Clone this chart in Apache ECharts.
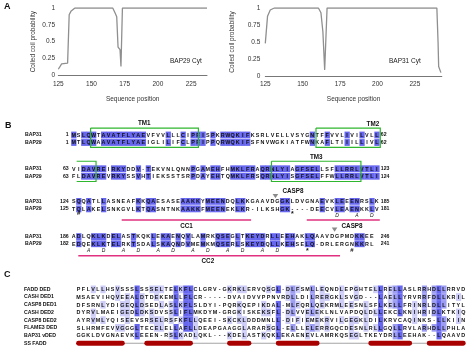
<!DOCTYPE html>
<html>
<head>
<meta charset="utf-8">
<script src="https://cdn.jsdelivr.net/npm/echarts@6/dist/echarts.min.js"></script>
<style>
  html, body { margin: 0; padding: 0; background: #fff; }
  #chart { width: 474px; height: 350px; }
</style>
</head>
<body>
<div id="chart"></div>
<script>
const FONT = '"Liberation Sans", Arial, sans-serif';

// panel A - coiled coil probability vs sequence position
const bap29Pos  = [125, 126, 127.5, 132, 133.2, 134.5, 137.5, 166, 167.7, 169, 170, 171.5, 172.2, 173.3, 237];
const bap29Prob = [0.09, 0.12, 0.17, 0.18, 0.9, 0.95, 1, 1, 0.93, 0.87, 0.42, 0.38, 0.13, 1, 1];
const bap31Pos  = [125, 126.5, 128.3, 131, 160.5, 162.2, 163.5, 164.7, 165.3, 166.3, 239.7, 240.5, 240.9, 242.4];
const bap31Prob = [0.48, 0.88, 0.97, 1, 1, 0.93, 0.65, 0.09, 0.1, 1, 1, 0.5, 0.14, 0.05];

// panel B - BAP31 / BAP29 alignment
const bap31Seq = [
  'MSLQWTAVATFLYAEVFVVLLLCIPFISPKRWQKIFKSRLVELLVSYGNTFFVVLIVILVLL',
  'VIDAVREIRKYDDV-TEKVNLQNNPGAMEHFHMKLFRAQRNLYIAGFSELLSFLLRRLVTLI',
  'SQQATLLASNEAFKKQAESASEAAKKYMEENDQLKKGAAVDGGKLDVGNAEVKLEEENRSLK',
  'ADLQKLKDELASTKQKLEKAENQVLAMRKQSEGLTKEYDRLLEEHAKLQAAVDGPMDKKEE'
];
const bap29Seq = [
  'MTLQWAAVATFLYAEIGLILIFCLPFIPPQRWQKIFSFNVWGKIATFWNKAFLTIIILLIVL',
  'FLDAVREVRKYSSVHTIEKSSTSRPDAYEHTQMKLFRSQRNLYISGFSELFFWLLRRLVTLI',
  'TQLAKELSNKGVLKTQASNTNKAAKKFMEENEKLKR-ILKSHGK----DEECVLEAENKKLV',
  'EDQEKLKTELRKTSDALSKAQNDVMEMKMQSERLSKEYDQLLKEHSELQ-DRLERGNKKRL'
];
const bap31From = [1, 63, 124, 186];
const bap31To   = [62, 123, 185, 246];
const bap29From = [1, 63, 125, 182];
const bap29To   = [62, 124, 181, 241];
const heptadA = [3, 10, 17, 24, 31, 38];
const heptadD = [6, 13, 20, 27, 34, 41];

// panel C - death effector domains
const dedNames = ['FADD DED', 'CASH DED1', 'CASP8 DED1', 'CASH DED2', 'CASP8 DED2', 'FLAME3 DED', 'BAP31 vDED'];
const dedSeqs = [
  'PFLVLLHSVSSSLSSSELTELKFLCLGRV-GKRKLERVQSGL-DLFSMLLEQNDLEPGHTELLRELLASLRRHDLLRRVD',
  'MSAEVIHQVEEALDTDEKEMLLFLCR-----DVAIDVVPPNVRDLLDILRERGKLSVGD---LAELLYRVRRFDLLKRIL',
  'DFSRNLYDIGEQLDSEDLASLKFLSLDYI-PQRKQEPIKDAL-MLFQRLQEKRMLEESNLSFLKELLFRINRLDLLITYL',
  'DYRVLMAEIGEDLDKSDVSSLIFLMKDYM-GRGKISKEKSFL-DLVVELEKLNLVAPDQLDLLEKCLKNIHRIDLKTKIQ',
  'AYRVMLYQISEEVSRSELRSFKFLLQEEI-SKCKLDDDMNLL-DIFIEMEKRVILGEGKLDILKRVCAQINKS-LLKIIN',
  'SLHRMFEVVGGGLTECELELLAFLLDEAPGAAGGLARARSGL-ELLLELERRGQCDESNLRLLGQLLRVLARHDLLPHLA',
  'GGKLDVGNAEVKLEEEN-RSLKADLQKL---KDELASTKQKLEKAENEVLAMRKQSEGLTKEYDRLLEEHAK--LQAAVD'
];
const ssFaddHelix = [[0, 9], [14, 23], [31, 35], [41, 49], [60, 68], [72, 79]];

const BLUE = '#6666ee', MID = '#9c9cf3', LIGHT = '#cdcdf7';
const GREEN = '#2fb62f', PINK = '#e0307f';

// identity shading for panel B
const rowY31 = [2, 6.5, 10.85, 15.55];
const rowY29 = [3, 7.5, 11.85, 16.5];
const bCells = [];
bap31Seq.forEach((s31, r) => {
  const s29 = bap29Seq[r];
  [[s31, rowY31[r]], [s29, rowY29[r]]].forEach(([s, y]) => {
    for (let i = 0; i < s.length; i++) {
      const same = s31[i] === s29[i] && s31[i] !== '-';
      bCells.push({ col: i, y: y, ch: s[i], fill: same ? BLUE : null });
    }
  });
});

// percentage identity shading for panel C
const cCells = [];
for (let i = 0; i < dedSeqs[0].length; i++) {
  const counts = {};
  dedSeqs.forEach(s => { const ch = s[i]; if (ch && ch !== '-') counts[ch] = (counts[ch] || 0) + 1; });
  let best = null, n = 0;
  for (const k in counts) if (counts[k] > n) { n = counts[k]; best = k; }
  const pct = n / dedSeqs.length;
  const fill = pct > 0.8 ? BLUE : pct > 0.6 ? MID : pct > 0.4 ? LIGHT : null;
  dedSeqs.forEach((s, r) => cCells.push({ col: i, y: r, ch: s[i], fill: s[i] === best ? fill : null }));
}

function textEl(s, p, font, align, color) {
  return {
    type: 'text',
    style: {
      text: s, x: p[0], y: p[1], font: font, fill: color || '#111',
      align: align || 'center', verticalAlign: 'middle',
      textAlign: align || 'center', textVerticalAlign: 'middle'
    }
  };
}

function cellRenderer(cells, cellH) {
  return function (params, api) {
    const c = cells[params.dataIndex];
    const p = api.coord([c.col, c.y]);
    const w = api.size([1, 0])[0];
    const kids = [];
    if (c.fill) {
      kids.push({ type: 'rect', shape: { x: p[0] - w / 2, y: p[1] - cellH / 2, width: w + 0.3, height: cellH }, style: { fill: c.fill } });
    }
    kids.push(textEl(c.ch, [p[0], p[1] + 0.3], 'bold 5.4px ' + FONT));
    return { type: 'group', children: kids };
  };
}

function bAnnot(params, api) {
  const P = (x, y) => api.coord([x, y]);
  const kids = [];
  const lab = 'bold 6.3px ' + FONT;
  const small = 'bold 5.2px ' + FONT;
  const box = (x0, x1, y0, y1, openLeft) => {
    const a = P(x0, y0), b = P(x1, y1);
    const pts = [[a[0], a[1]], [b[0], a[1]], [b[0], b[1]], [a[0], b[1]]];
    if (!openLeft) pts.push([a[0], a[1]]);
    kids.push({ type: 'polyline', shape: { points: pts }, style: { stroke: GREEN, lineWidth: 1.2, fill: null } });
  };
  const hline = (x0, x1, y) => {
    const a = P(x0, y), b = P(x1, y);
    kids.push({ type: 'line', shape: { x1: a[0], y1: a[1], x2: b[0], y2: b[1] }, style: { stroke: PINK, lineWidth: 1.6 } });
  };
  const tri = (x, y) => {
    const p = P(x, y);
    kids.push({ type: 'polygon', shape: { points: [[p[0] - 2.8, p[1] - 2], [p[0] + 2.8, p[1] - 2], [p[0], p[1] + 2.3]] }, style: { fill: '#8a8a8a' } });
  };

  // names and residue numbers
  for (let r = 0; r < 4; r++) {
    kids.push(textEl('BAP31', P(-9.8, rowY31[r]), small, 'left'));
    kids.push(textEl('BAP29', P(-9.8, rowY29[r]), small, 'left'));
    kids.push(textEl(String(bap31From[r]), P(-1.0, rowY31[r]), small, 'right'));
    kids.push(textEl(String(bap29From[r]), P(-1.0, rowY29[r]), small, 'right'));
    kids.push(textEl(String(bap31To[r]), P(61.8, rowY31[r]), small, 'left'));
    kids.push(textEl(String(bap29To[r]), P(61.8, rowY29[r]), small, 'left'));
  }

  // transmembrane boxes
  box(3.4, 25.1, 1.07, 3.64);
  box(48.76, 61.7, 1.07, 3.64);
  box(0.6, 4.5, 5.5, 8.2, true);
  box(39.8, 57.8, 5.5, 8.2);
  kids.push(textEl('TM1', P(14.2, 0.4), lab));
  kids.push(textEl('TM2', P(60.2, 0.6), lab));
  kids.push(textEl('TM3', P(48.8, 4.93), lab));

  // caspase-8 sites
  tri(40.6, 10.13);
  kids.push(textEl('CASP8', P(42.0, 9.56), lab, 'left'));
  tri(52.5, 14.6);
  kids.push(textEl('CASP8', P(53.9, 14.2), lab, 'left'));

  // coiled coils
  hline(9.66, 35.7, 13.33);
  hline(46.9, 61.6, 13.33);
  kids.push(textEl('CC1', P(22.7, 14.2), lab));
  hline(0.93, 53.6, 18.1);
  kids.push(textEl('CC2', P(27, 18.9), lab));

  // marks under block 3
  kids.push(textEl('#', P(1, 12.45), 'bold 6px ' + FONT));
  kids.push(textEl('*', P(44, 12.6), 'bold 7px ' + FONT));
  [[53, 'D'], [57, 'A'], [60, 'D']].forEach(([c, t]) => kids.push(textEl(t, P(c, 12.8), 'italic 5px ' + FONT)));

  // heptad positions under block 4
  heptadA.forEach(c => kids.push(textEl('A', P(c, 17.37), 'italic 5px ' + FONT)));
  heptadD.forEach(c => kids.push(textEl('D', P(c, 17.37), 'italic 5px ' + FONT)));
  kids.push(textEl('*', P(47, 17.5), 'bold 7px ' + FONT));
  kids.push(textEl('#', P(56, 17.37), 'bold 6px ' + FONT));

  return { type: 'group', children: kids };
}

function cAnnot(params, api) {
  const P = (x, y) => api.coord([x, y]);
  const kids = [];
  const small = 'bold 5.2px ' + FONT;
  dedNames.forEach((n, r) => kids.push(textEl(n, P(-11.2, r), small, 'left')));
  kids.push(textEl('SS FADD', P(-11.2, 7), small, 'left'));
  const a = P(-0.5, 7), b = P(79.5, 7);
  kids.push({ type: 'line', shape: { x1: a[0], y1: a[1], x2: b[0], y2: b[1] }, style: { stroke: '#9a9a9a', lineWidth: 0.9 } });
  ssFaddHelix.forEach(([s, e]) => {
    const p0 = P(s - 0.5, 7), p1 = P(e + 0.5, 7);
    kids.push({ type: 'rect', shape: { x: p0[0], y: p0[1] - 2.4, width: p1[0] - p0[0], height: 4.8, r: 2.4 }, style: { fill: '#a90000' } });
  });
  return { type: 'group', children: kids };
}

const axisTxt = { color: '#333', fontSize: 6.5, fontFamily: FONT };

function lineX(gi, max) {
  return {
    gridIndex: gi, type: 'value', min: 125, max: max, interval: 25,
    name: 'Sequence position', nameLocation: 'middle', nameGap: 20, nameTextStyle: axisTxt,
    axisLine: { show: true, onZero: false, lineStyle: { color: '#777', width: 1 } },
    axisTick: { show: false }, splitLine: { show: false },
    axisLabel: Object.assign({ margin: 5, showMaxLabel: false }, axisTxt)
  };
}
function lineY(gi, gap, margin) {
  return {
    gridIndex: gi, type: 'value', min: 0, max: 1, interval: 0.25,
    name: 'Coiled coil probability', nameLocation: 'middle', nameGap: gap, nameTextStyle: axisTxt,
    axisLine: { show: false, lineStyle: { color: 'rgba(0,0,0,0)' } },
    axisTick: { show: false }, splitLine: { show: false },
    axisLabel: Object.assign({ margin: margin }, axisTxt)
  };
}
const hidden = (gi, min, max, inverse) => ({ gridIndex: gi, type: 'value', min: min, max: max, inverse: !!inverse, show: false });

const chart = echarts.init(document.getElementById('chart'));
chart.setOption({
  animation: false,
  backgroundColor: '#fff',
  textStyle: { fontFamily: FONT },
  grid: [
    { left: 58.3, top: 8, width: 148.7, height: 67.3, outerBoundsMode: 'none' },
    { left: 265.3, top: 8, width: 176.5, height: 68, outerBoundsMode: 'none' },
    { left: 71.2, top: 120, width: 308.1, height: 150, outerBoundsMode: 'none' },
    { left: 76.1, top: 285.5, width: 389.6, height: 61.6, outerBoundsMode: 'none' }
  ],
  xAxis: [lineX(0, 237), lineX(1, 243), hidden(2, -0.5, 61.5), hidden(3, -0.5, 79.5)],
  yAxis: [lineY(0, 21.5, 3.3), lineY(1, 30, 5), hidden(2, 0, 20, true), hidden(3, -0.5, 7.5, true)],
  graphic: [
    { type: 'text', left: 4, top: 2, style: { text: 'A', font: 'bold 9px ' + FONT, fill: '#111' } },
    { type: 'text', left: 5, top: 121, style: { text: 'B', font: 'bold 9px ' + FONT, fill: '#111' } },
    { type: 'text', left: 4, top: 270, style: { text: 'C', font: 'bold 9px ' + FONT, fill: '#111' } },
    { type: 'text', left: 170, top: 58, style: { text: 'BAP29 Cyt', font: '6.5px ' + FONT, fill: '#222' } },
    { type: 'text', left: 389, top: 58, style: { text: 'BAP31 Cyt', font: '6.5px ' + FONT, fill: '#222' } }
  ],
  series: [
    {
      type: 'line', xAxisIndex: 0, yAxisIndex: 0, silent: true, showSymbol: false,
      data: bap29Pos.map((x, i) => [x, bap29Prob[i]]),
      lineStyle: { color: '#8f8f8f', width: 1.3 }
    },
    {
      type: 'line', xAxisIndex: 1, yAxisIndex: 1, silent: true, showSymbol: false,
      data: bap31Pos.map((x, i) => [x, bap31Prob[i]]),
      lineStyle: { color: '#8f8f8f', width: 1.3 }
    },
    {
      type: 'custom', xAxisIndex: 2, yAxisIndex: 2, silent: true, clip: false,
      data: bCells.map(c => [c.col, c.y]),
      renderItem: cellRenderer(bCells, 6.8)
    },
    {
      type: 'custom', xAxisIndex: 2, yAxisIndex: 2, silent: true, clip: false,
      data: [[0, 0]],
      renderItem: bAnnot
    },
    {
      type: 'custom', xAxisIndex: 3, yAxisIndex: 3, silent: true, clip: false,
      data: cCells.map(c => [c.col, c.y]),
      renderItem: cellRenderer(cCells, 7.7)
    },
    {
      type: 'custom', xAxisIndex: 3, yAxisIndex: 3, silent: true, clip: false,
      data: [[0, 0]],
      renderItem: cAnnot
    }
  ]
});
</script>
</body>
</html>
